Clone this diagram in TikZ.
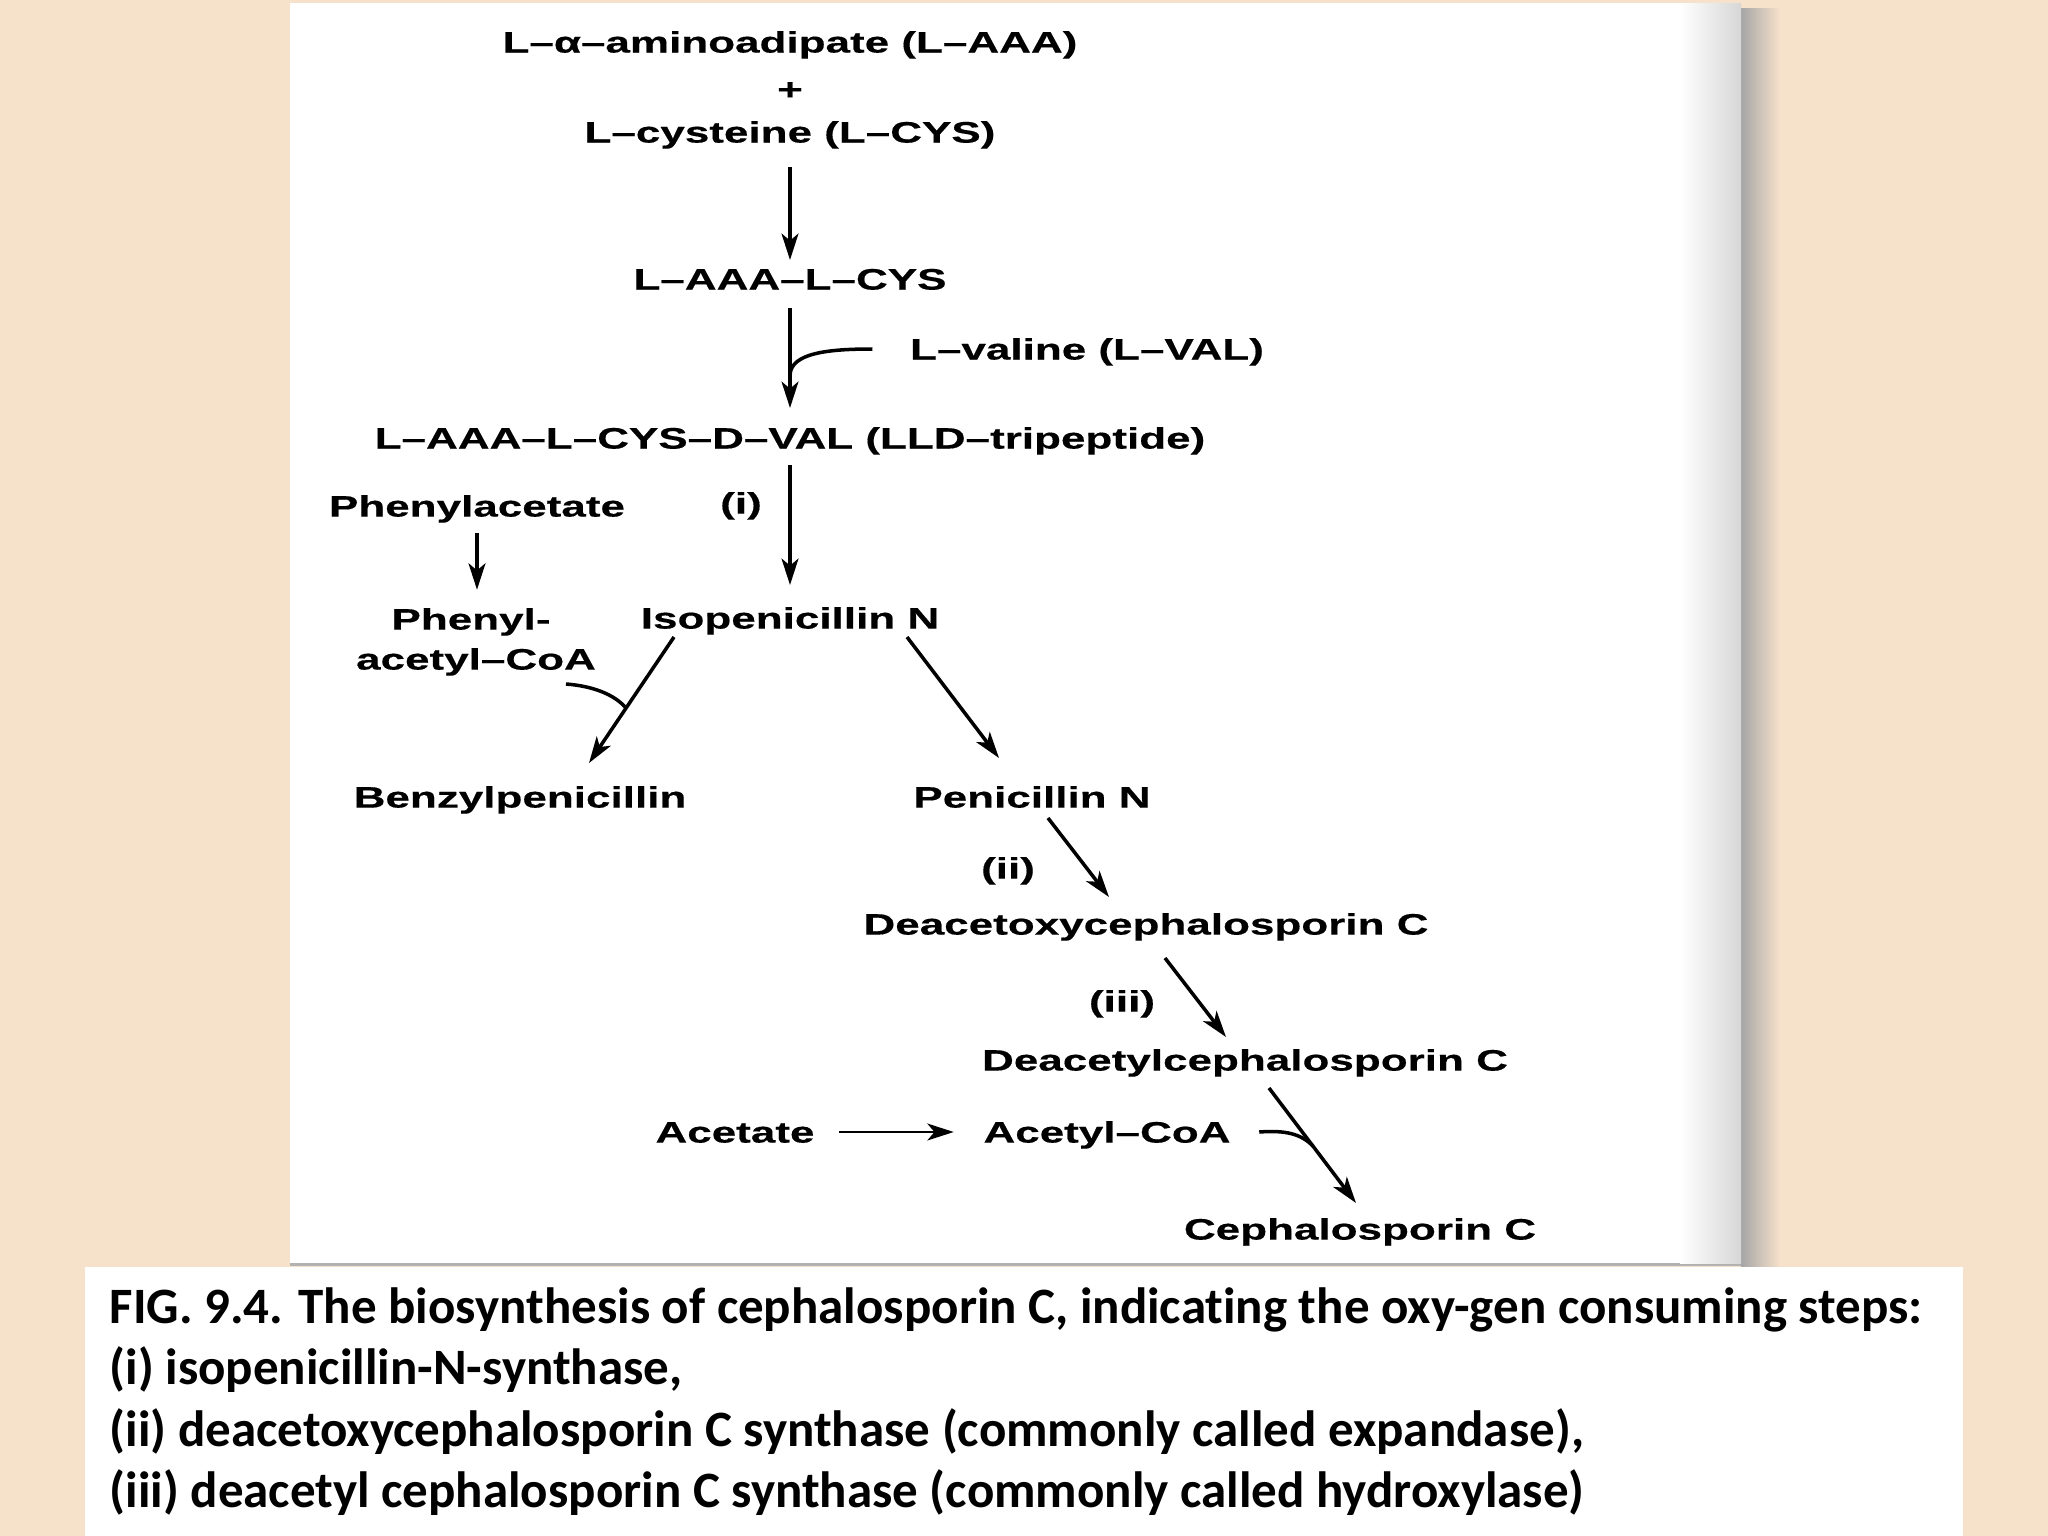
\documentclass[tikz,border=0pt]{standalone}
\usepackage{fontspec}
\newfontfamily\figfont[FakeStretch=1.49, BoldFeatures={FakeBold=0.4}]{Liberation Sans}
\newfontfamily\capfont[Ligatures=NoCommon]{Carlito}
\usetikzlibrary{arrows.meta}
\definecolor{peach}{RGB}{246,225,203}
\tikzset{
  lbl/.style={font=\figfont\bfseries\fontsize{8.4}{10}\selectfont, inner sep=0pt, text height=6pt, text depth=0pt},
  rxn/.style={line width=1pt, -{Stealth[length=7.5pt,width=4.8pt,inset=2pt]}},
  feed/.style={line width=1pt},
  capline/.style={font=\capfont\bfseries\fontsize{14.5}{17}\selectfont, anchor=base west, inner sep=0pt}
}
\begin{document}
\begin{tikzpicture}[x=0.01cm,y=-0.01cm]
\useasboundingbox (0,0) rectangle (2048,1536);
\fill[peach] (0,0) rectangle (2048,1536);
% figure panel with its shadow
\shade[left color=black!35, right color=peach] (1741,8) rectangle (1780,1268);
\fill[black!30] (290,1262) rectangle (1741,1266);
\fill[white] (290,3) rectangle (1741,1263);
\shade[left color=white, right color=black!16] (1680,3) rectangle (1741,1263);
\fill[white] (85,1267) rectangle (1963,1536);

\node[lbl] (aaa) at (790,42) {L–α–aminoadipate (L–AAA)};
\node[lbl] (plus) at (790,89) {+};
\node[lbl] (cys) at (790,132) {L–cysteine (L–CYS)};
\node[lbl] (dip) at (790,279) {L–AAA–L–CYS};
\node[lbl] (val) at (1087,349) {L–valine (L–VAL)};
\node[lbl] (lld) at (790,438) {L–AAA–L–CYS–D–VAL (LLD–tripeptide)};
\node[lbl] (phac) at (477,506) {Phenylacetate};
\node[lbl] (si) at (741,503) {(i)};
\node[lbl] (phen) at (471,619) {Phenyl-};
\node[lbl] (phcoa) at (476,659) {acetyl–CoA};
\node[lbl] (ipn) at (790,618) {Isopenicillin N};
\node[lbl] (benz) at (520,797) {Benzylpenicillin};
\node[lbl] (pen) at (1032,797) {Penicillin N};
\node[lbl] (sii) at (1008,868) {(ii)};
\node[lbl] (daoc) at (1146,924) {Deacetoxycephalosporin C};
\node[lbl] (siii) at (1122,1001) {(iii)};
\node[lbl] (dac) at (1245,1060) {Deacetylcephalosporin C};
\node[lbl] (acet) at (735,1132) {Acetate};
\node[lbl] (accoa) at (1107,1132) {Acetyl–CoA};
\node[lbl] (cpc) at (1360,1229) {Cephalosporin C};

\coordinate (valjoin) at (790,375);
\coordinate (phjoin) at (626,708);
\coordinate (acjoin) at (1313,1146);

\draw[rxn, shorten <=0.35cm, shorten >=0.19cm] (cys.center) -- (dip.center);
\draw[rxn, shorten <=0.29cm, shorten >=0.30cm] (dip.center) -- (lld.center);
\draw[feed] ([xshift=-0.37cm]val.west) .. controls (828,349) and (791,353) .. (valjoin);
\draw[rxn, shorten <=0.27cm, shorten >=0.33cm] (lld.center) -- (ipn.center);
\draw[rxn, shorten <=0.16cm, shorten >=0.18cm] (phac.south) -- (phac.south |- phen.north);
\draw[rxn] ([shift={(-116,19)}]ipn.center) -- ([shift={(69,-34)}]benz.center);
\draw[feed] ([shift={(90,25)}]phcoa.center) .. controls (592,686) and (614,694) .. (phjoin);
\draw[rxn] ([shift={(117,19)}]ipn.center) -- ([shift={(-33,-39)}]pen.center);
\draw[rxn] ([shift={(16,21)}]pen.center) -- ([shift={(-37,-27)}]daoc.center);
\draw[rxn] ([shift={(19,34)}]daoc.center) -- ([shift={(-19,-23)}]dac.center);
\draw[rxn] ([shift={(24,28)}]dac.center) -- ([shift={(-4,-26)}]cpc.center);
\draw[feed] ([xshift=0.28cm]accoa.east) .. controls (1286,1130) and (1301,1134) .. (acjoin);
\draw[rxn, line width=0.7pt, shorten <=0.24cm, shorten >=0.29cm] (acet.east) -- (accoa.west);

\node[capline] (cap1) at (109,1323) {FIG. 9.4. The biosynthesis of cephalosporin C, indicating the oxy-gen consuming steps:};
\node[capline] (cap2) at (109,1384) {(i) isopenicillin-N-synthase,};
\node[capline] (cap3) at (109,1446) {(ii) deacetoxycephalosporin C synthase (commonly called expandase),};
\node[capline] (cap4) at (109,1507) {(iii) deacetyl cephalosporin C synthase (commonly called hydroxylase)};
\end{tikzpicture}
\end{document}
